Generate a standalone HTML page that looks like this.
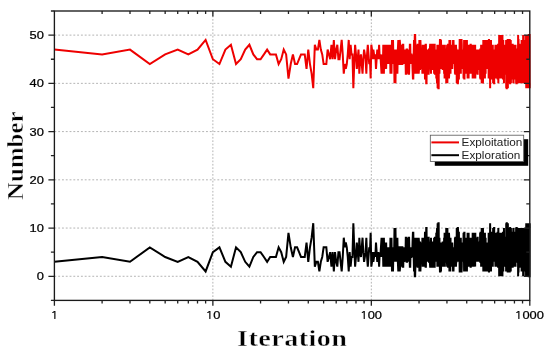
<!DOCTYPE html>
<html><head><meta charset="utf-8"><style>
html,body{margin:0;padding:0;background:#fff;width:550px;height:355px;overflow:hidden}
svg{display:block}
.tl{font-family:"Liberation Sans",Arial,sans-serif;font-size:11.5px;fill:#000;stroke:#000;stroke-width:0.25px}
.ax{font-family:"Liberation Serif","Times New Roman",serif;font-weight:bold;font-size:22.5px;fill:#000}
.axn{font-family:"Liberation Serif","Times New Roman",serif;font-size:26.5px;fill:#000;stroke:#000;stroke-width:0.4px}
.lg{font-family:"Liberation Sans",Arial,sans-serif;font-size:11px;fill:#222}
</style></head><body>
<svg width="550" height="355" viewBox="0 0 550 355">
<rect width="550" height="355" fill="#fff"/>
<path d="M54.40,276.28H529.80M54.40,228.05H529.80M54.40,179.82H529.80M54.40,131.58H529.80M54.40,83.35H529.80M54.40,35.12H529.80" stroke="#b4b4b4" stroke-width="1" stroke-dasharray="1.9 1.89" fill="none"/>
<path d="M212.87,300.40V11.00M371.33,300.40V11.00" stroke="#b4b4b4" stroke-width="1" stroke-dasharray="1.7 1.67" fill="none"/>
<path d="M54.40,49.59 L102.10,54.41 L130.01,49.59 L149.81,64.06 L165.16,54.41 L177.71,49.59 L188.32,54.41 L197.51,49.59 L205.62,39.94 L212.87,59.23 L219.43,64.06 L225.41,49.59 L230.92,44.76 L236.02,64.06 L240.77,59.23 L245.21,49.59 L249.39,44.76 L253.32,54.41 L257.04,59.23 L260.57,59.23 L263.93,54.41 L267.13,49.59 L270.19,54.41 L273.12,54.41 L275.93,54.41 L278.63,64.06 L281.22,59.23 L283.73,49.59 L286.14,54.41 L288.47,78.53 L290.73,64.06 L292.92,54.41 L295.03,64.06 L297.09,64.06 L299.08,59.23 L301.02,54.41 L302.91,54.41 L304.74,54.41 L306.53,68.88 L308.27,49.59 L309.97,64.06 L311.63,73.70 L313.25,88.17 L314.83,44.76 L316.38,49.59 L317.89,49.59 L319.37,39.94 L320.82,49.59 L322.24,54.41 L323.63,64.06 L324.99,64.06 L326.33,64.06 L327.64,49.59 L328.93,54.41 L330.19,59.23 L331.43,44.76 L332.65,59.23 L333.84,39.94 L335.02,59.23 L336.18,49.59 L337.32,44.76 L338.43,59.23 L339.54,59.23 L340.62,49.59 L341.69,39.94 L342.74,54.41 L343.77,73.70 L344.79,64.06 L345.80,68.88 L346.79,64.06 L347.76,54.41 L348.73,39.94 L349.67,59.23 L350.61,44.76 L351.53,54.41 L352.45,54.41 L353.35,88.17 L354.23,64.06 L355.11,44.76 L355.98,54.41 L356.83,68.88 L357.68,59.23 L358.51,49.59 L359.33,73.70 L360.15,59.23 L360.95,54.41 L361.75,64.06 L362.54,73.70 L363.31,59.23 L364.08,49.59 L364.84,54.41 L365.59,59.23 L366.34,73.70 L367.07,54.41 L367.80,44.76 L368.52,54.41 L369.24,64.06 L369.94,59.23 L370.64,78.53 L371.33,44.76 L372.02,49.59 L372.70,59.23 L373.37,49.59 L374.03,54.41 L374.69,59.23 L375.34,54.41 L375.99,68.88 L376.63,59.23 L377.26,49.59 L377.89,59.23 L378.52,54.41 L379.13,44.76 L379.74,59.23 L380.35,54.41 L380.95,64.06 L381.55,73.70 L382.14,54.41 L382.72,73.70 L383.31,44.76 L383.88,73.70 L384.45,44.76 L385.02,68.88 L385.58,44.76 L386.14,68.88 L386.69,44.76 L387.24,64.06 L387.78,44.76 L388.32,64.06 L388.86,44.76 L389.39,64.06 L389.92,44.76 L390.44,73.70 L390.96,49.59 L391.48,73.70 L391.99,39.94 L392.49,64.06 L393.00,39.94 L393.50,64.06 L394.00,49.59 L394.49,83.35 L394.98,49.59 L395.47,83.35 L395.95,49.59 L396.43,73.70 L396.90,49.59 L397.38,73.70 L397.85,49.59 L398.31,39.94 L398.78,64.06 L399.24,64.06 L399.70,39.94 L400.15,44.76 L400.60,64.06 L401.05,64.06 L401.49,44.76 L401.94,64.06 L402.38,64.06 L402.81,44.76 L403.25,44.76 L403.68,64.06 L404.11,49.59 L404.53,54.41 L404.96,64.06 L405.38,49.59 L405.80,73.70 L406.21,73.70 L406.63,49.59 L407.04,49.59 L407.45,64.06 L407.85,73.70 L408.26,49.59 L408.66,73.70 L409.06,73.70 L409.45,59.23 L409.85,44.76 L410.24,44.76 L410.63,64.06 L411.02,54.41 L411.40,54.41 L411.79,64.06 L412.17,54.41 L412.55,68.88 L412.92,78.53 L413.30,78.53 L413.67,54.41 L414.04,39.94 L414.41,73.70 L414.78,35.12 L415.14,35.12 L415.51,49.59 L415.87,73.70 L416.23,44.76 L416.58,73.70 L416.94,44.76 L417.29,73.70 L417.65,44.76 L418.00,44.76 L418.34,44.76 L418.69,73.70 L419.04,68.88 L419.38,39.94 L419.72,68.88 L420.06,68.88 L420.40,39.94 L420.74,49.59 L421.07,59.23 L421.40,49.59 L421.74,68.88 L422.07,54.41 L422.39,73.70 L422.72,44.76 L423.05,73.70 L423.37,44.76 L423.69,64.06 L424.01,64.06 L424.33,59.23 L424.65,44.76 L424.97,78.53 L425.28,78.53 L425.60,44.76 L425.91,44.76 L426.22,83.35 L426.53,83.35 L426.84,49.59 L427.14,64.06 L427.45,49.59 L427.75,73.70 L428.05,54.41 L428.36,73.70 L428.66,73.70 L428.95,49.59 L429.25,49.59 L429.55,68.88 L429.84,49.59 L430.14,44.76 L430.43,44.76 L430.72,68.88 L431.01,73.70 L431.30,49.59 L431.58,44.76 L431.87,68.88 L432.16,44.76 L432.44,44.76 L432.72,68.88 L433.00,68.88 L433.28,59.23 L433.56,68.88 L433.84,44.76 L434.12,73.70 L434.39,44.76 L434.67,44.76 L434.94,73.70 L435.21,73.70 L435.49,49.59 L435.76,54.41 L436.03,49.59 L436.29,78.53 L436.56,54.41 L436.83,78.53 L437.09,83.35 L437.36,44.76 L437.62,88.17 L437.88,68.88 L438.14,59.23 L438.40,88.17 L438.66,88.17 L438.92,44.76 L439.18,64.06 L439.43,73.70 L439.69,54.41 L439.94,39.94 L440.20,39.94 L440.45,39.94 L440.70,59.23 L440.95,39.94 L441.20,49.59 L441.45,68.88 L441.70,44.76 L441.95,68.88 L442.19,49.59 L442.44,44.76 L442.68,68.88 L442.93,68.88 L443.17,44.76 L443.41,54.41 L443.65,68.88 L443.89,49.59 L444.13,73.70 L444.37,44.76 L444.61,78.53 L444.84,44.76 L445.08,78.53 L445.32,49.59 L445.55,49.59 L445.78,68.88 L446.02,49.59 L446.25,83.35 L446.48,68.88 L446.71,78.53 L446.94,49.59 L447.17,44.76 L447.40,83.35 L447.63,44.76 L447.85,54.41 L448.08,44.76 L448.30,44.76 L448.53,44.76 L448.75,68.88 L448.98,78.53 L449.20,73.70 L449.42,39.94 L449.64,54.41 L449.86,54.41 L450.08,49.59 L450.30,39.94 L450.52,73.70 L450.73,49.59 L450.95,68.88 L451.17,64.06 L451.38,68.88 L451.60,44.76 L451.81,49.59 L452.02,59.23 L452.24,68.88 L452.45,64.06 L452.66,44.76 L452.87,49.59 L453.08,39.94 L453.29,64.06 L453.50,39.94 L453.71,49.59 L453.92,54.41 L454.12,44.76 L454.33,49.59 L454.54,59.23 L454.74,44.76 L454.95,73.70 L455.15,54.41 L455.35,73.70 L455.56,73.70 L455.76,49.59 L455.96,44.76 L456.16,49.59 L456.36,49.59 L456.56,54.41 L456.76,83.35 L456.96,49.59 L457.16,78.53 L457.35,49.59 L457.55,68.88 L457.75,83.35 L457.94,83.35 L458.14,78.53 L458.33,68.88 L458.53,49.59 L458.72,78.53 L458.91,78.53 L459.11,59.23 L459.30,73.70 L459.49,54.41 L459.68,39.94 L459.87,39.94 L460.06,39.94 L460.25,68.88 L460.44,54.41 L460.63,68.88 L460.81,73.70 L461.00,39.94 L461.19,54.41 L461.37,39.94 L461.56,39.94 L461.75,44.76 L461.93,68.88 L462.11,64.06 L462.30,49.59 L462.48,68.88 L462.66,49.59 L462.85,59.23 L463.03,54.41 L463.21,49.59 L463.39,64.06 L463.57,78.53 L463.75,49.59 L463.93,59.23 L464.11,39.94 L464.29,78.53 L464.47,78.53 L464.64,39.94 L464.82,44.76 L465.00,49.59 L465.17,44.76 L465.35,73.70 L465.52,39.94 L465.70,68.88 L465.87,68.88 L466.05,49.59 L466.22,73.70 L466.39,68.88 L466.57,54.41 L466.74,49.59 L466.91,39.94 L467.08,54.41 L467.25,59.23 L467.42,44.76 L467.59,78.53 L467.76,64.06 L467.93,49.59 L468.10,59.23 L468.27,64.06 L468.44,68.88 L468.61,78.53 L468.77,44.76 L468.94,59.23 L469.11,73.70 L469.27,44.76 L469.44,59.23 L469.60,54.41 L469.77,73.70 L469.93,64.06 L470.10,68.88 L470.26,73.70 L470.42,68.88 L470.59,44.76 L470.75,44.76 L470.91,73.70 L471.07,49.59 L471.24,44.76 L471.40,73.70 L471.56,68.88 L471.72,49.59 L471.88,44.76 L472.04,64.06 L472.20,73.70 L472.35,44.76 L472.51,49.59 L472.67,78.53 L472.83,68.88 L472.99,54.41 L473.14,49.59 L473.30,49.59 L473.46,54.41 L473.61,68.88 L473.77,44.76 L473.92,78.53 L474.08,68.88 L474.23,68.88 L474.39,44.76 L474.54,78.53 L474.69,73.70 L474.85,54.41 L475.00,54.41 L475.15,44.76 L475.30,78.53 L475.45,54.41 L475.61,73.70 L475.76,54.41 L475.91,64.06 L476.06,59.23 L476.21,64.06 L476.36,49.59 L476.51,59.23 L476.66,68.88 L476.81,73.70 L476.95,49.59 L477.10,64.06 L477.25,64.06 L477.40,49.59 L477.54,73.70 L477.69,73.70 L477.84,49.59 L477.98,64.06 L478.13,54.41 L478.28,54.41 L478.42,64.06 L478.57,68.88 L478.71,49.59 L478.86,64.06 L479.00,49.59 L479.14,54.41 L479.29,68.88 L479.43,49.59 L479.57,68.88 L479.72,68.88 L479.86,64.06 L480.00,64.06 L480.14,78.53 L480.28,49.59 L480.42,49.59 L480.57,78.53 L480.71,78.53 L480.85,78.53 L480.99,73.70 L481.13,44.76 L481.27,54.41 L481.41,78.53 L481.54,44.76 L481.68,83.35 L481.82,78.53 L481.96,83.35 L482.10,44.76 L482.23,64.06 L482.37,54.41 L482.51,83.35 L482.65,64.06 L482.78,54.41 L482.92,83.35 L483.05,78.53 L483.19,64.06 L483.32,39.94 L483.46,68.88 L483.59,59.23 L483.73,78.53 L483.86,64.06 L484.00,78.53 L484.13,44.76 L484.26,54.41 L484.40,59.23 L484.53,39.94 L484.66,73.70 L484.80,39.94 L484.93,78.53 L485.06,44.76 L485.19,54.41 L485.32,49.59 L485.45,49.59 L485.59,73.70 L485.72,54.41 L485.85,39.94 L485.98,59.23 L486.11,68.88 L486.24,64.06 L486.37,64.06 L486.50,49.59 L486.62,39.94 L486.75,44.76 L486.88,64.06 L487.01,59.23 L487.14,49.59 L487.27,39.94 L487.39,68.88 L487.52,39.94 L487.65,68.88 L487.77,39.94 L487.90,54.41 L488.03,49.59 L488.15,68.88 L488.28,44.76 L488.41,49.59 L488.53,49.59 L488.66,78.53 L488.78,49.59 L488.91,39.94 L489.03,39.94 L489.15,44.76 L489.28,54.41 L489.40,39.94 L489.53,68.88 L489.65,44.76 L489.77,39.94 L489.90,78.53 L490.02,73.70 L490.14,88.17 L490.26,49.59 L490.39,64.06 L490.51,54.41 L490.63,49.59 L490.75,39.94 L490.87,44.76 L490.99,39.94 L491.11,64.06 L491.23,73.70 L491.36,78.53 L491.48,59.23 L491.60,59.23 L491.72,44.76 L491.83,78.53 L491.95,78.53 L492.07,78.53 L492.19,54.41 L492.31,59.23 L492.43,59.23 L492.55,44.76 L492.67,78.53 L492.78,44.76 L492.90,78.53 L493.02,68.88 L493.14,83.35 L493.25,59.23 L493.37,83.35 L493.49,64.06 L493.60,54.41 L493.72,83.35 L493.84,49.59 L493.95,64.06 L494.07,83.35 L494.18,83.35 L494.30,64.06 L494.41,68.88 L494.53,54.41 L494.64,78.53 L494.76,68.88 L494.87,49.59 L494.99,64.06 L495.10,64.06 L495.22,68.88 L495.33,49.59 L495.44,44.76 L495.56,64.06 L495.67,73.70 L495.78,59.23 L495.89,73.70 L496.01,49.59 L496.12,44.76 L496.23,78.53 L496.34,49.59 L496.46,54.41 L496.57,44.76 L496.68,78.53 L496.79,44.76 L496.90,64.06 L497.01,54.41 L497.12,68.88 L497.23,59.23 L497.34,44.76 L497.45,64.06 L497.56,78.53 L497.67,78.53 L497.78,68.88 L497.89,68.88 L498.00,73.70 L498.11,44.76 L498.22,44.76 L498.33,83.35 L498.44,73.70 L498.55,59.23 L498.65,54.41 L498.76,44.76 L498.87,73.70 L498.98,44.76 L499.09,49.59 L499.19,35.12 L499.30,78.53 L499.41,68.88 L499.51,39.94 L499.62,68.88 L499.73,64.06 L499.83,78.53 L499.94,59.23 L500.05,78.53 L500.15,39.94 L500.26,44.76 L500.36,49.59 L500.47,59.23 L500.58,39.94 L500.68,64.06 L500.79,49.59 L500.89,54.41 L500.99,35.12 L501.10,78.53 L501.20,59.23 L501.31,59.23 L501.41,68.88 L501.52,78.53 L501.62,73.70 L501.72,35.12 L501.83,54.41 L501.93,68.88 L502.03,35.12 L502.14,73.70 L502.24,68.88 L502.34,78.53 L502.44,35.12 L502.55,64.06 L502.65,68.88 L502.75,39.94 L502.85,64.06 L502.95,78.53 L503.06,78.53 L503.16,78.53 L503.26,39.94 L503.36,68.88 L503.46,49.59 L503.56,49.59 L503.66,68.88 L503.76,64.06 L503.86,49.59 L503.96,83.35 L504.06,59.23 L504.16,73.70 L504.26,73.70 L504.36,64.06 L504.46,73.70 L504.56,68.88 L504.66,54.41 L504.76,44.76 L504.86,73.70 L504.96,49.59 L505.06,73.70 L505.15,73.70 L505.25,59.23 L505.35,68.88 L505.45,68.88 L505.55,44.76 L505.65,68.88 L505.74,49.59 L505.84,49.59 L505.94,59.23 L506.04,59.23 L506.13,39.94 L506.23,88.17 L506.33,44.76 L506.42,59.23 L506.52,54.41 L506.62,73.70 L506.71,88.17 L506.81,88.17 L506.90,54.41 L507.00,73.70 L507.10,73.70 L507.19,73.70 L507.29,88.17 L507.38,39.94 L507.48,44.76 L507.57,54.41 L507.67,39.94 L507.76,39.94 L507.86,88.17 L507.95,68.88 L508.05,59.23 L508.14,54.41 L508.24,78.53 L508.33,68.88 L508.42,64.06 L508.52,49.59 L508.61,78.53 L508.70,68.88 L508.80,54.41 L508.89,73.70 L508.98,59.23 L509.08,83.35 L509.17,78.53 L509.26,59.23 L509.36,78.53 L509.45,73.70 L509.54,68.88 L509.63,39.94 L509.73,39.94 L509.82,59.23 L509.91,39.94 L510.00,68.88 L510.09,83.35 L510.18,83.35 L510.28,49.59 L510.37,39.94 L510.46,73.70 L510.55,83.35 L510.64,78.53 L510.73,39.94 L510.82,49.59 L510.91,83.35 L511.00,73.70 L511.09,68.88 L511.18,49.59 L511.27,59.23 L511.36,78.53 L511.45,44.76 L511.54,59.23 L511.63,78.53 L511.72,78.53 L511.81,44.76 L511.90,59.23 L511.99,73.70 L512.08,64.06 L512.17,78.53 L512.26,49.59 L512.35,44.76 L512.44,68.88 L512.52,54.41 L512.61,44.76 L512.70,44.76 L512.79,54.41 L512.88,73.70 L512.96,54.41 L513.05,49.59 L513.14,59.23 L513.23,68.88 L513.32,83.35 L513.40,54.41 L513.49,68.88 L513.58,83.35 L513.66,54.41 L513.75,68.88 L513.84,68.88 L513.92,68.88 L514.01,64.06 L514.10,64.06 L514.18,73.70 L514.27,68.88 L514.36,54.41 L514.44,44.76 L514.53,78.53 L514.61,59.23 L514.70,68.88 L514.79,44.76 L514.87,59.23 L514.96,59.23 L515.04,49.59 L515.13,44.76 L515.21,49.59 L515.30,78.53 L515.38,78.53 L515.47,64.06 L515.55,44.76 L515.64,73.70 L515.72,68.88 L515.81,78.53 L515.89,49.59 L515.97,49.59 L516.06,68.88 L516.14,83.35 L516.23,59.23 L516.31,68.88 L516.39,83.35 L516.48,83.35 L516.56,78.53 L516.64,83.35 L516.73,83.35 L516.81,64.06 L516.89,49.59 L516.98,49.59 L517.06,78.53 L517.14,49.59 L517.22,64.06 L517.31,54.41 L517.39,68.88 L517.47,78.53 L517.55,78.53 L517.64,64.06 L517.72,83.35 L517.80,49.59 L517.88,54.41 L517.96,64.06 L518.05,49.59 L518.13,35.12 L518.21,54.41 L518.29,73.70 L518.37,73.70 L518.45,39.94 L518.53,39.94 L518.62,49.59 L518.70,78.53 L518.78,49.59 L518.86,73.70 L518.94,64.06 L519.02,44.76 L519.10,44.76 L519.18,83.35 L519.26,49.59 L519.34,78.53 L519.42,83.35 L519.50,44.76 L519.58,44.76 L519.66,64.06 L519.74,59.23 L519.82,54.41 L519.90,64.06 L519.98,68.88 L520.06,83.35 L520.14,49.59 L520.22,64.06 L520.29,78.53 L520.37,64.06 L520.45,64.06 L520.53,44.76 L520.61,59.23 L520.69,73.70 L520.77,64.06 L520.85,64.06 L520.92,78.53 L521.00,64.06 L521.08,73.70 L521.16,68.88 L521.24,64.06 L521.31,59.23 L521.39,49.59 L521.47,73.70 L521.55,68.88 L521.63,39.94 L521.70,73.70 L521.78,68.88 L521.86,44.76 L521.93,83.35 L522.01,39.94 L522.09,64.06 L522.17,73.70 L522.24,64.06 L522.32,78.53 L522.40,39.94 L522.47,64.06 L522.55,68.88 L522.63,83.35 L522.70,49.59 L522.78,39.94 L522.85,54.41 L522.93,78.53 L523.01,78.53 L523.08,64.06 L523.16,35.12 L523.23,64.06 L523.31,78.53 L523.39,39.94 L523.46,78.53 L523.54,35.12 L523.61,54.41 L523.69,35.12 L523.76,59.23 L523.84,39.94 L523.91,54.41 L523.99,59.23 L524.06,83.35 L524.14,64.06 L524.21,73.70 L524.29,73.70 L524.36,39.94 L524.43,68.88 L524.51,39.94 L524.58,64.06 L524.66,39.94 L524.73,54.41 L524.81,68.88 L524.88,64.06 L524.95,39.94 L525.03,83.35 L525.10,44.76 L525.17,49.59 L525.25,83.35 L525.32,59.23 L525.40,64.06 L525.47,54.41 L525.54,68.88 L525.61,39.94 L525.69,59.23 L525.76,83.35 L525.83,59.23 L525.91,73.70 L525.98,59.23 L526.05,35.12 L526.12,49.59 L526.20,83.35 L526.27,88.17 L526.34,73.70 L526.41,73.70 L526.49,64.06 L526.56,54.41 L526.63,35.12 L526.70,88.17 L526.78,49.59 L526.85,68.88 L526.92,39.94 L526.99,59.23 L527.06,78.53 L527.13,78.53 L527.21,35.12 L527.28,54.41 L527.35,73.70 L527.42,88.17 L527.49,54.41 L527.56,88.17 L527.63,35.12 L527.70,64.06 L527.77,35.12 L527.85,44.76 L527.92,35.12 L527.99,44.76 L528.06,83.35 L528.13,88.17 L528.20,49.59 L528.27,78.53 L528.34,39.94 L528.41,73.70 L528.48,59.23 L528.55,88.17 L528.62,59.23 L528.69,88.17 L528.76,35.12 L528.83,35.12 L528.90,88.17 L528.97,64.06 L529.04,35.12 L529.11,83.35 L529.18,88.17 L529.25,73.70 L529.32,64.06 L529.39,88.17 L529.46,39.94 L529.52,35.12 L529.59,35.12 L529.66,88.17 L529.73,83.35 L529.80,83.35" stroke="#ee0000" stroke-width="2" fill="none" stroke-linejoin="miter"/>
<path d="M54.40,261.81 L102.10,256.99 L130.01,261.81 L149.81,247.34 L165.16,256.99 L177.71,261.81 L188.32,256.99 L197.51,261.81 L205.62,271.46 L212.87,252.17 L219.43,247.34 L225.41,261.81 L230.92,266.64 L236.02,247.34 L240.77,252.17 L245.21,261.81 L249.39,266.64 L253.32,256.99 L257.04,252.17 L260.57,252.17 L263.93,256.99 L267.13,261.81 L270.19,256.99 L273.12,256.99 L275.93,256.99 L278.63,247.34 L281.22,252.17 L283.73,261.81 L286.14,256.99 L288.47,232.87 L290.73,247.34 L292.92,256.99 L295.03,247.34 L297.09,247.34 L299.08,252.17 L301.02,256.99 L302.91,256.99 L304.74,256.99 L306.53,242.52 L308.27,261.81 L309.97,247.34 L311.63,237.70 L313.25,223.23 L314.83,266.64 L316.38,261.81 L317.89,261.81 L319.37,271.46 L320.82,261.81 L322.24,256.99 L323.63,247.34 L324.99,247.34 L326.33,247.34 L327.64,261.81 L328.93,256.99 L330.19,252.17 L331.43,266.64 L332.65,252.17 L333.84,271.46 L335.02,252.17 L336.18,261.81 L337.32,266.64 L338.43,252.17 L339.54,252.17 L340.62,261.81 L341.69,271.46 L342.74,256.99 L343.77,237.70 L344.79,247.34 L345.80,242.52 L346.79,247.34 L347.76,256.99 L348.73,271.46 L349.67,252.17 L350.61,266.64 L351.53,256.99 L352.45,256.99 L353.35,223.23 L354.23,247.34 L355.11,266.64 L355.98,256.99 L356.83,242.52 L357.68,252.17 L358.51,261.81 L359.33,237.70 L360.15,252.17 L360.95,256.99 L361.75,247.34 L362.54,237.70 L363.31,252.17 L364.08,261.81 L364.84,256.99 L365.59,252.17 L366.34,237.70 L367.07,256.99 L367.80,266.64 L368.52,256.99 L369.24,247.34 L369.94,252.17 L370.64,232.87 L371.33,266.64 L372.02,261.81 L372.70,252.17 L373.37,261.81 L374.03,256.99 L374.69,252.17 L375.34,256.99 L375.99,242.52 L376.63,252.17 L377.26,261.81 L377.89,252.17 L378.52,256.99 L379.13,266.64 L379.74,252.17 L380.35,256.99 L380.95,247.34 L381.55,237.70 L382.14,256.99 L382.72,237.70 L383.31,266.64 L383.88,237.70 L384.45,266.64 L385.02,242.52 L385.58,266.64 L386.14,242.52 L386.69,266.64 L387.24,247.34 L387.78,266.64 L388.32,247.34 L388.86,266.64 L389.39,247.34 L389.92,266.64 L390.44,237.70 L390.96,261.81 L391.48,237.70 L391.99,271.46 L392.49,247.34 L393.00,271.46 L393.50,247.34 L394.00,261.81 L394.49,228.05 L394.98,261.81 L395.47,228.05 L395.95,261.81 L396.43,237.70 L396.90,261.81 L397.38,237.70 L397.85,261.81 L398.31,271.46 L398.78,247.34 L399.24,247.34 L399.70,271.46 L400.15,266.64 L400.60,247.34 L401.05,247.34 L401.49,266.64 L401.94,247.34 L402.38,247.34 L402.81,266.64 L403.25,266.64 L403.68,247.34 L404.11,261.81 L404.53,256.99 L404.96,247.34 L405.38,261.81 L405.80,237.70 L406.21,237.70 L406.63,261.81 L407.04,261.81 L407.45,247.34 L407.85,237.70 L408.26,261.81 L408.66,237.70 L409.06,237.70 L409.45,252.17 L409.85,266.64 L410.24,266.64 L410.63,247.34 L411.02,256.99 L411.40,256.99 L411.79,247.34 L412.17,256.99 L412.55,242.52 L412.92,232.87 L413.30,232.87 L413.67,256.99 L414.04,271.46 L414.41,237.70 L414.78,276.28 L415.14,276.28 L415.51,261.81 L415.87,237.70 L416.23,266.64 L416.58,237.70 L416.94,266.64 L417.29,237.70 L417.65,266.64 L418.00,266.64 L418.34,266.64 L418.69,237.70 L419.04,242.52 L419.38,271.46 L419.72,242.52 L420.06,242.52 L420.40,271.46 L420.74,261.81 L421.07,252.17 L421.40,261.81 L421.74,242.52 L422.07,256.99 L422.39,237.70 L422.72,266.64 L423.05,237.70 L423.37,266.64 L423.69,247.34 L424.01,247.34 L424.33,252.17 L424.65,266.64 L424.97,232.87 L425.28,232.87 L425.60,266.64 L425.91,266.64 L426.22,228.05 L426.53,228.05 L426.84,261.81 L427.14,247.34 L427.45,261.81 L427.75,237.70 L428.05,256.99 L428.36,237.70 L428.66,237.70 L428.95,261.81 L429.25,261.81 L429.55,242.52 L429.84,261.81 L430.14,266.64 L430.43,266.64 L430.72,242.52 L431.01,237.70 L431.30,261.81 L431.58,266.64 L431.87,242.52 L432.16,266.64 L432.44,266.64 L432.72,242.52 L433.00,242.52 L433.28,252.17 L433.56,242.52 L433.84,266.64 L434.12,237.70 L434.39,266.64 L434.67,266.64 L434.94,237.70 L435.21,237.70 L435.49,261.81 L435.76,256.99 L436.03,261.81 L436.29,232.87 L436.56,256.99 L436.83,232.87 L437.09,228.05 L437.36,266.64 L437.62,223.23 L437.88,242.52 L438.14,252.17 L438.40,223.23 L438.66,223.23 L438.92,266.64 L439.18,247.34 L439.43,237.70 L439.69,256.99 L439.94,271.46 L440.20,271.46 L440.45,271.46 L440.70,252.17 L440.95,271.46 L441.20,261.81 L441.45,242.52 L441.70,266.64 L441.95,242.52 L442.19,261.81 L442.44,266.64 L442.68,242.52 L442.93,242.52 L443.17,266.64 L443.41,256.99 L443.65,242.52 L443.89,261.81 L444.13,237.70 L444.37,266.64 L444.61,232.87 L444.84,266.64 L445.08,232.87 L445.32,261.81 L445.55,261.81 L445.78,242.52 L446.02,261.81 L446.25,228.05 L446.48,242.52 L446.71,232.87 L446.94,261.81 L447.17,266.64 L447.40,228.05 L447.63,266.64 L447.85,256.99 L448.08,266.64 L448.30,266.64 L448.53,266.64 L448.75,242.52 L448.98,232.87 L449.20,237.70 L449.42,271.46 L449.64,256.99 L449.86,256.99 L450.08,261.81 L450.30,271.46 L450.52,237.70 L450.73,261.81 L450.95,242.52 L451.17,247.34 L451.38,242.52 L451.60,266.64 L451.81,261.81 L452.02,252.17 L452.24,242.52 L452.45,247.34 L452.66,266.64 L452.87,261.81 L453.08,271.46 L453.29,247.34 L453.50,271.46 L453.71,261.81 L453.92,256.99 L454.12,266.64 L454.33,261.81 L454.54,252.17 L454.74,266.64 L454.95,237.70 L455.15,256.99 L455.35,237.70 L455.56,237.70 L455.76,261.81 L455.96,266.64 L456.16,261.81 L456.36,261.81 L456.56,256.99 L456.76,228.05 L456.96,261.81 L457.16,232.87 L457.35,261.81 L457.55,242.52 L457.75,228.05 L457.94,228.05 L458.14,232.87 L458.33,242.52 L458.53,261.81 L458.72,232.87 L458.91,232.87 L459.11,252.17 L459.30,237.70 L459.49,256.99 L459.68,271.46 L459.87,271.46 L460.06,271.46 L460.25,242.52 L460.44,256.99 L460.63,242.52 L460.81,237.70 L461.00,271.46 L461.19,256.99 L461.37,271.46 L461.56,271.46 L461.75,266.64 L461.93,242.52 L462.11,247.34 L462.30,261.81 L462.48,242.52 L462.66,261.81 L462.85,252.17 L463.03,256.99 L463.21,261.81 L463.39,247.34 L463.57,232.87 L463.75,261.81 L463.93,252.17 L464.11,271.46 L464.29,232.87 L464.47,232.87 L464.64,271.46 L464.82,266.64 L465.00,261.81 L465.17,266.64 L465.35,237.70 L465.52,271.46 L465.70,242.52 L465.87,242.52 L466.05,261.81 L466.22,237.70 L466.39,242.52 L466.57,256.99 L466.74,261.81 L466.91,271.46 L467.08,256.99 L467.25,252.17 L467.42,266.64 L467.59,232.87 L467.76,247.34 L467.93,261.81 L468.10,252.17 L468.27,247.34 L468.44,242.52 L468.61,232.87 L468.77,266.64 L468.94,252.17 L469.11,237.70 L469.27,266.64 L469.44,252.17 L469.60,256.99 L469.77,237.70 L469.93,247.34 L470.10,242.52 L470.26,237.70 L470.42,242.52 L470.59,266.64 L470.75,266.64 L470.91,237.70 L471.07,261.81 L471.24,266.64 L471.40,237.70 L471.56,242.52 L471.72,261.81 L471.88,266.64 L472.04,247.34 L472.20,237.70 L472.35,266.64 L472.51,261.81 L472.67,232.87 L472.83,242.52 L472.99,256.99 L473.14,261.81 L473.30,261.81 L473.46,256.99 L473.61,242.52 L473.77,266.64 L473.92,232.87 L474.08,242.52 L474.23,242.52 L474.39,266.64 L474.54,232.87 L474.69,237.70 L474.85,256.99 L475.00,256.99 L475.15,266.64 L475.30,232.87 L475.45,256.99 L475.61,237.70 L475.76,256.99 L475.91,247.34 L476.06,252.17 L476.21,247.34 L476.36,261.81 L476.51,252.17 L476.66,242.52 L476.81,237.70 L476.95,261.81 L477.10,247.34 L477.25,247.34 L477.40,261.81 L477.54,237.70 L477.69,237.70 L477.84,261.81 L477.98,247.34 L478.13,256.99 L478.28,256.99 L478.42,247.34 L478.57,242.52 L478.71,261.81 L478.86,247.34 L479.00,261.81 L479.14,256.99 L479.29,242.52 L479.43,261.81 L479.57,242.52 L479.72,242.52 L479.86,247.34 L480.00,247.34 L480.14,232.87 L480.28,261.81 L480.42,261.81 L480.57,232.87 L480.71,232.87 L480.85,232.87 L480.99,237.70 L481.13,266.64 L481.27,256.99 L481.41,232.87 L481.54,266.64 L481.68,228.05 L481.82,232.87 L481.96,228.05 L482.10,266.64 L482.23,247.34 L482.37,256.99 L482.51,228.05 L482.65,247.34 L482.78,256.99 L482.92,228.05 L483.05,232.87 L483.19,247.34 L483.32,271.46 L483.46,242.52 L483.59,252.17 L483.73,232.87 L483.86,247.34 L484.00,232.87 L484.13,266.64 L484.26,256.99 L484.40,252.17 L484.53,271.46 L484.66,237.70 L484.80,271.46 L484.93,232.87 L485.06,266.64 L485.19,256.99 L485.32,261.81 L485.45,261.81 L485.59,237.70 L485.72,256.99 L485.85,271.46 L485.98,252.17 L486.11,242.52 L486.24,247.34 L486.37,247.34 L486.50,261.81 L486.62,271.46 L486.75,266.64 L486.88,247.34 L487.01,252.17 L487.14,261.81 L487.27,271.46 L487.39,242.52 L487.52,271.46 L487.65,242.52 L487.77,271.46 L487.90,256.99 L488.03,261.81 L488.15,242.52 L488.28,266.64 L488.41,261.81 L488.53,261.81 L488.66,232.87 L488.78,261.81 L488.91,271.46 L489.03,271.46 L489.15,266.64 L489.28,256.99 L489.40,271.46 L489.53,242.52 L489.65,266.64 L489.77,271.46 L489.90,232.87 L490.02,237.70 L490.14,223.23 L490.26,261.81 L490.39,247.34 L490.51,256.99 L490.63,261.81 L490.75,271.46 L490.87,266.64 L490.99,271.46 L491.11,247.34 L491.23,237.70 L491.36,232.87 L491.48,252.17 L491.60,252.17 L491.72,266.64 L491.83,232.87 L491.95,232.87 L492.07,232.87 L492.19,256.99 L492.31,252.17 L492.43,252.17 L492.55,266.64 L492.67,232.87 L492.78,266.64 L492.90,232.87 L493.02,242.52 L493.14,228.05 L493.25,252.17 L493.37,228.05 L493.49,247.34 L493.60,256.99 L493.72,228.05 L493.84,261.81 L493.95,247.34 L494.07,228.05 L494.18,228.05 L494.30,247.34 L494.41,242.52 L494.53,256.99 L494.64,232.87 L494.76,242.52 L494.87,261.81 L494.99,247.34 L495.10,247.34 L495.22,242.52 L495.33,261.81 L495.44,266.64 L495.56,247.34 L495.67,237.70 L495.78,252.17 L495.89,237.70 L496.01,261.81 L496.12,266.64 L496.23,232.87 L496.34,261.81 L496.46,256.99 L496.57,266.64 L496.68,232.87 L496.79,266.64 L496.90,247.34 L497.01,256.99 L497.12,242.52 L497.23,252.17 L497.34,266.64 L497.45,247.34 L497.56,232.87 L497.67,232.87 L497.78,242.52 L497.89,242.52 L498.00,237.70 L498.11,266.64 L498.22,266.64 L498.33,228.05 L498.44,237.70 L498.55,252.17 L498.65,256.99 L498.76,266.64 L498.87,237.70 L498.98,266.64 L499.09,261.81 L499.19,276.28 L499.30,232.87 L499.41,242.52 L499.51,271.46 L499.62,242.52 L499.73,247.34 L499.83,232.87 L499.94,252.17 L500.05,232.87 L500.15,271.46 L500.26,266.64 L500.36,261.81 L500.47,252.17 L500.58,271.46 L500.68,247.34 L500.79,261.81 L500.89,256.99 L500.99,276.28 L501.10,232.87 L501.20,252.17 L501.31,252.17 L501.41,242.52 L501.52,232.87 L501.62,237.70 L501.72,276.28 L501.83,256.99 L501.93,242.52 L502.03,276.28 L502.14,237.70 L502.24,242.52 L502.34,232.87 L502.44,276.28 L502.55,247.34 L502.65,242.52 L502.75,271.46 L502.85,247.34 L502.95,232.87 L503.06,232.87 L503.16,232.87 L503.26,271.46 L503.36,242.52 L503.46,261.81 L503.56,261.81 L503.66,242.52 L503.76,247.34 L503.86,261.81 L503.96,228.05 L504.06,252.17 L504.16,237.70 L504.26,237.70 L504.36,247.34 L504.46,237.70 L504.56,242.52 L504.66,256.99 L504.76,266.64 L504.86,237.70 L504.96,261.81 L505.06,237.70 L505.15,237.70 L505.25,252.17 L505.35,242.52 L505.45,242.52 L505.55,266.64 L505.65,242.52 L505.74,261.81 L505.84,261.81 L505.94,252.17 L506.04,252.17 L506.13,271.46 L506.23,223.23 L506.33,266.64 L506.42,252.17 L506.52,256.99 L506.62,237.70 L506.71,223.23 L506.81,223.23 L506.90,256.99 L507.00,237.70 L507.10,237.70 L507.19,237.70 L507.29,223.23 L507.38,271.46 L507.48,266.64 L507.57,256.99 L507.67,271.46 L507.76,271.46 L507.86,223.23 L507.95,242.52 L508.05,252.17 L508.14,256.99 L508.24,232.87 L508.33,242.52 L508.42,247.34 L508.52,261.81 L508.61,232.87 L508.70,242.52 L508.80,256.99 L508.89,237.70 L508.98,252.17 L509.08,228.05 L509.17,232.87 L509.26,252.17 L509.36,232.87 L509.45,237.70 L509.54,242.52 L509.63,271.46 L509.73,271.46 L509.82,252.17 L509.91,271.46 L510.00,242.52 L510.09,228.05 L510.18,228.05 L510.28,261.81 L510.37,271.46 L510.46,237.70 L510.55,228.05 L510.64,232.87 L510.73,271.46 L510.82,261.81 L510.91,228.05 L511.00,237.70 L511.09,242.52 L511.18,261.81 L511.27,252.17 L511.36,232.87 L511.45,266.64 L511.54,252.17 L511.63,232.87 L511.72,232.87 L511.81,266.64 L511.90,252.17 L511.99,237.70 L512.08,247.34 L512.17,232.87 L512.26,261.81 L512.35,266.64 L512.44,242.52 L512.52,256.99 L512.61,266.64 L512.70,266.64 L512.79,256.99 L512.88,237.70 L512.96,256.99 L513.05,261.81 L513.14,252.17 L513.23,242.52 L513.32,228.05 L513.40,256.99 L513.49,242.52 L513.58,228.05 L513.66,256.99 L513.75,242.52 L513.84,242.52 L513.92,242.52 L514.01,247.34 L514.10,247.34 L514.18,237.70 L514.27,242.52 L514.36,256.99 L514.44,266.64 L514.53,232.87 L514.61,252.17 L514.70,242.52 L514.79,266.64 L514.87,252.17 L514.96,252.17 L515.04,261.81 L515.13,266.64 L515.21,261.81 L515.30,232.87 L515.38,232.87 L515.47,247.34 L515.55,266.64 L515.64,237.70 L515.72,242.52 L515.81,232.87 L515.89,261.81 L515.97,261.81 L516.06,242.52 L516.14,228.05 L516.23,252.17 L516.31,242.52 L516.39,228.05 L516.48,228.05 L516.56,232.87 L516.64,228.05 L516.73,228.05 L516.81,247.34 L516.89,261.81 L516.98,261.81 L517.06,232.87 L517.14,261.81 L517.22,247.34 L517.31,256.99 L517.39,242.52 L517.47,232.87 L517.55,232.87 L517.64,247.34 L517.72,228.05 L517.80,261.81 L517.88,256.99 L517.96,247.34 L518.05,261.81 L518.13,276.28 L518.21,256.99 L518.29,237.70 L518.37,237.70 L518.45,271.46 L518.53,271.46 L518.62,261.81 L518.70,232.87 L518.78,261.81 L518.86,237.70 L518.94,247.34 L519.02,266.64 L519.10,266.64 L519.18,228.05 L519.26,261.81 L519.34,232.87 L519.42,228.05 L519.50,266.64 L519.58,266.64 L519.66,247.34 L519.74,252.17 L519.82,256.99 L519.90,247.34 L519.98,242.52 L520.06,228.05 L520.14,261.81 L520.22,247.34 L520.29,232.87 L520.37,247.34 L520.45,247.34 L520.53,266.64 L520.61,252.17 L520.69,237.70 L520.77,247.34 L520.85,247.34 L520.92,232.87 L521.00,247.34 L521.08,237.70 L521.16,242.52 L521.24,247.34 L521.31,252.17 L521.39,261.81 L521.47,237.70 L521.55,242.52 L521.63,271.46 L521.70,237.70 L521.78,242.52 L521.86,266.64 L521.93,228.05 L522.01,271.46 L522.09,247.34 L522.17,237.70 L522.24,247.34 L522.32,232.87 L522.40,271.46 L522.47,247.34 L522.55,242.52 L522.63,228.05 L522.70,261.81 L522.78,271.46 L522.85,256.99 L522.93,232.87 L523.01,232.87 L523.08,247.34 L523.16,276.28 L523.23,247.34 L523.31,232.87 L523.39,271.46 L523.46,232.87 L523.54,276.28 L523.61,256.99 L523.69,276.28 L523.76,252.17 L523.84,271.46 L523.91,256.99 L523.99,252.17 L524.06,228.05 L524.14,247.34 L524.21,237.70 L524.29,237.70 L524.36,271.46 L524.43,242.52 L524.51,271.46 L524.58,247.34 L524.66,271.46 L524.73,256.99 L524.81,242.52 L524.88,247.34 L524.95,271.46 L525.03,228.05 L525.10,266.64 L525.17,261.81 L525.25,228.05 L525.32,252.17 L525.40,247.34 L525.47,256.99 L525.54,242.52 L525.61,271.46 L525.69,252.17 L525.76,228.05 L525.83,252.17 L525.91,237.70 L525.98,252.17 L526.05,276.28 L526.12,261.81 L526.20,228.05 L526.27,223.23 L526.34,237.70 L526.41,237.70 L526.49,247.34 L526.56,256.99 L526.63,276.28 L526.70,223.23 L526.78,261.81 L526.85,242.52 L526.92,271.46 L526.99,252.17 L527.06,232.87 L527.13,232.87 L527.21,276.28 L527.28,256.99 L527.35,237.70 L527.42,223.23 L527.49,256.99 L527.56,223.23 L527.63,276.28 L527.70,247.34 L527.77,276.28 L527.85,266.64 L527.92,276.28 L527.99,266.64 L528.06,228.05 L528.13,223.23 L528.20,261.81 L528.27,232.87 L528.34,271.46 L528.41,237.70 L528.48,252.17 L528.55,223.23 L528.62,252.17 L528.69,223.23 L528.76,276.28 L528.83,276.28 L528.90,223.23 L528.97,247.34 L529.04,276.28 L529.11,228.05 L529.18,223.23 L529.25,237.70 L529.32,247.34 L529.39,223.23 L529.46,271.46 L529.52,276.28 L529.59,276.28 L529.66,223.23 L529.73,228.05 L529.80,228.05" stroke="#000" stroke-width="2" fill="none" stroke-linejoin="miter"/>
<path d="M54.40,300.40L50.90,300.40M54.40,276.28L48.40,276.28M529.80,276.28L523.80,276.28M54.40,252.17L50.90,252.17M529.80,252.17L526.30,252.17M54.40,228.05L48.40,228.05M529.80,228.05L523.80,228.05M54.40,203.93L50.90,203.93M529.80,203.93L526.30,203.93M54.40,179.82L48.40,179.82M529.80,179.82L523.80,179.82M54.40,155.70L50.90,155.70M529.80,155.70L526.30,155.70M54.40,131.58L48.40,131.58M529.80,131.58L523.80,131.58M54.40,107.47L50.90,107.47M529.80,107.47L526.30,107.47M54.40,83.35L48.40,83.35M529.80,83.35L523.80,83.35M54.40,59.23L50.90,59.23M529.80,59.23L526.30,59.23M54.40,35.12L48.40,35.12M529.80,35.12L523.80,35.12M54.40,11.00L50.90,11.00M54.40,300.40L54.40,305.80M102.10,300.40L102.10,303.40M102.10,11.00L102.10,14.00M130.01,300.40L130.01,303.40M130.01,11.00L130.01,14.00M149.81,300.40L149.81,303.40M149.81,11.00L149.81,14.00M165.16,300.40L165.16,303.40M165.16,11.00L165.16,14.00M177.71,300.40L177.71,303.40M177.71,11.00L177.71,14.00M188.32,300.40L188.32,303.40M188.32,11.00L188.32,14.00M197.51,300.40L197.51,303.40M197.51,11.00L197.51,14.00M205.62,300.40L205.62,303.40M205.62,11.00L205.62,14.00M212.87,300.40L212.87,305.80M212.87,11.00L212.87,16.40M260.57,300.40L260.57,303.40M260.57,11.00L260.57,14.00M288.47,300.40L288.47,303.40M288.47,11.00L288.47,14.00M308.27,300.40L308.27,303.40M308.27,11.00L308.27,14.00M323.63,300.40L323.63,303.40M323.63,11.00L323.63,14.00M336.18,300.40L336.18,303.40M336.18,11.00L336.18,14.00M346.79,300.40L346.79,303.40M346.79,11.00L346.79,14.00M355.98,300.40L355.98,303.40M355.98,11.00L355.98,14.00M364.08,300.40L364.08,303.40M364.08,11.00L364.08,14.00M371.33,300.40L371.33,305.80M371.33,11.00L371.33,16.40M419.04,300.40L419.04,303.40M419.04,11.00L419.04,14.00M446.94,300.40L446.94,303.40M446.94,11.00L446.94,14.00M466.74,300.40L466.74,303.40M466.74,11.00L466.74,14.00M482.10,300.40L482.10,303.40M482.10,11.00L482.10,14.00M494.64,300.40L494.64,303.40M494.64,11.00L494.64,14.00M505.25,300.40L505.25,303.40M505.25,11.00L505.25,14.00M514.44,300.40L514.44,303.40M514.44,11.00L514.44,14.00M522.55,300.40L522.55,303.40M522.55,11.00L522.55,14.00M529.80,300.40L529.80,305.80" stroke="#222" stroke-width="1.3" fill="none"/>
<rect x="54.40" y="11.00" width="475.40" height="289.40" fill="none" stroke="#1a1a1a" stroke-width="1.35"/>
<rect x="434.8" y="139.2" width="93.4" height="26.6" fill="#000"/>
<rect x="430.3" y="135.2" width="93.4" height="26.4" fill="#fff" stroke="#555" stroke-width="0.8"/>
<path d="M431.4,142.4H459" stroke="#ee0000" stroke-width="2"/>
<path d="M431.4,155.2H459" stroke="#000" stroke-width="2"/>
<text transform="translate(461.6,146) scale(1.068,1)" class="lg">Exploitation</text>
<text transform="translate(461.6,158.6) scale(1.068,1)" class="lg">Exploration</text>
<text transform="translate(43.9,280.28) scale(1.12,1)" text-anchor="end" class="tl">0</text><text transform="translate(43.9,232.05) scale(1.12,1)" text-anchor="end" class="tl">10</text><text transform="translate(43.9,183.82) scale(1.12,1)" text-anchor="end" class="tl">20</text><text transform="translate(43.9,135.58) scale(1.12,1)" text-anchor="end" class="tl">30</text><text transform="translate(43.9,87.35) scale(1.12,1)" text-anchor="end" class="tl">40</text><text transform="translate(43.9,39.12) scale(1.12,1)" text-anchor="end" class="tl">50</text>
<text transform="translate(54.40,318.9) scale(1.12,1)" text-anchor="middle" class="tl"><tspan style="font-family:NanumGothic,'Liberation Sans',sans-serif">1</tspan></text><text transform="translate(212.87,318.9) scale(1.12,1)" text-anchor="middle" class="tl"><tspan style="font-family:NanumGothic,'Liberation Sans',sans-serif">1</tspan>0</text><text transform="translate(370.93,318.9) scale(1.12,1)" text-anchor="middle" class="tl"><tspan style="font-family:NanumGothic,'Liberation Sans',sans-serif">1</tspan>00</text><text transform="translate(529.20,318.9) scale(1.12,1)" text-anchor="middle" class="tl"><tspan style="font-family:NanumGothic,'Liberation Sans',sans-serif">1</tspan>000</text>
<text transform="translate(292.2,345.8) scale(1.2,1)" text-anchor="middle" class="ax" style="font-size:23.5px;letter-spacing:0.35px;stroke:#fff;stroke-width:0.4px">Iteration</text>
<text transform="translate(22.9,155.7) rotate(-90) scale(1.045,1)" text-anchor="middle" class="ax" style="font-size:23.8px;stroke:#fff;stroke-width:0.5px">Number</text>
</svg>
</body></html>
